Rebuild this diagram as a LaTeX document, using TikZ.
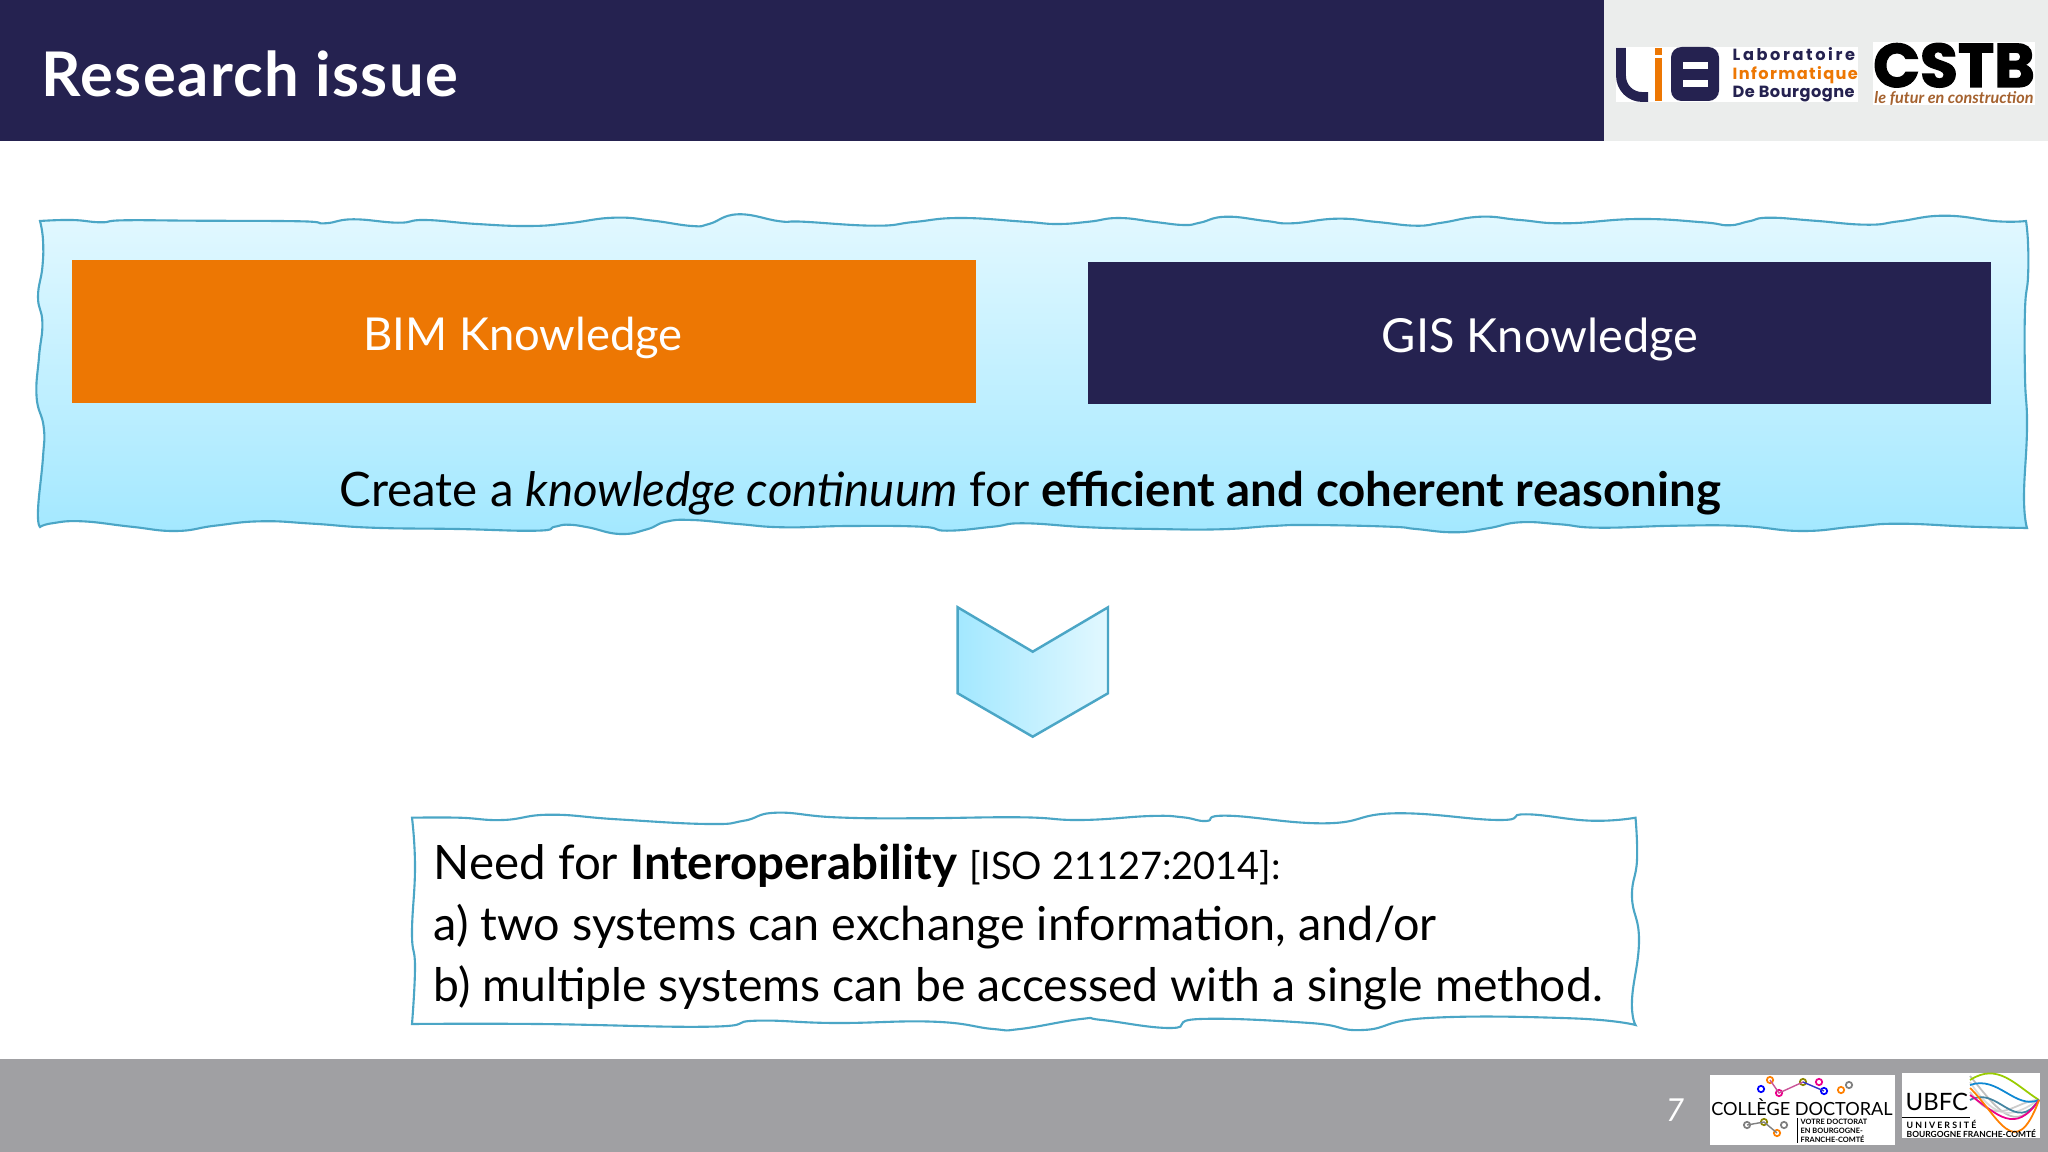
\documentclass[tikz,border=0pt]{standalone}
\usepackage{fontspec}
\setmainfont{Lato}
\newfontfamily\logofont{Poppins}
\usepackage{tikz}
\definecolor{navyband}{HTML}{252250}
\definecolor{orangebox}{HTML}{ED7703}
\definecolor{wavyline}{HTML}{4BA6C6}
\definecolor{palecyan}{HTML}{E2F8FF}
\definecolor{deepcyan}{HTML}{A3E8FF}
\definecolor{footgrey}{HTML}{A0A0A3}
\definecolor{logogrey}{HTML}{EBEDEC}
\definecolor{futurbrown}{HTML}{A5622F}
\tikzset{
  boxtext/.style={inner sep=0pt},
  linetext/.style={boxtext,anchor=base west},
  lablogo/.style={font=\logofont\bfseries\fontsize{4.6}{5}\selectfont,anchor=base west,inner sep=0pt},
  dot/.style={circle,draw,line width=0.5pt,inner sep=0pt,minimum size=1.8pt},
}
\begin{document}
\begin{tikzpicture}[x=0.01cm,y=-0.01cm]
\useasboundingbox (0,0) rectangle (2048,1152);
\fill[white] (0,0) rectangle (2048,1152);
\fill[navyband] (0,0) rectangle (1604,141);
\fill[logogrey] (1604,0) rectangle (2048,141);
\fill[footgrey] (0,1059) rectangle (2048,1152);
\node[anchor=base west,inner sep=0pt,text=white,font=\bfseries\fontsize{17.5}{20}\selectfont] (title) at (41,97) {\addfontfeatures{LetterSpace=2.2}Research issue};
%
\path[draw=wavyline,line width=0.6pt,top color=palecyan,bottom color=deepcyan]
  plot[smooth,tension=0.8] coordinates {(40,221) (72,220) (101,222.3) (124,220.3) (196,220.7) (300,221.3) (325,223.3) (353,219.3) (398,222.7) (425,220) (477,224) (529,226) (568,223.3) (614,217.7) (653,220.7) (692,226) (709,224) (738,214.3) (780,221.3) (803,221.7) (875,225.7) (914,222) (960,218) (1024,221.7) (1057,224) (1089,221.7) (1119,218) (1155,222) (1184,225) (1200,222.7) (1226,216.7) (1266,221) (1292,223.3) (1337,218.7) (1377,222) (1416,225.7) (1442,222.7) (1481,216.7) (1520,220) (1566,223.3) (1638,219) (1703,222.3) (1729,225.3) (1749,221.3) (1769,217.7) (1814,220.7) (1867,224.7) (1899,221.3) (1945,215.7) (1997,221.3) (2026,221)}
  -- plot[smooth,tension=0.8] coordinates {(2026,221) (2028,243) (2028,277) (2025,310) (2025,377) (2027,427) (2024,497) (2027,528)}
  -- plot[smooth,tension=0.8] coordinates {(2027,528) (1971,526.7) (1899,523.7) (1854,526.7) (1801,531) (1742,526) (1677,525.7) (1599,527.7) (1560,524.3) (1520,522.3) (1488,528.3) (1455,532.3) (1416,529) (1390,526.7) (1311,525) (1272,526) (1220,529.3) (1155,529) (1089,527.3) (1024,523.3) (993,526.7) (947,530.7) (921,526.7) (849,526) (784,527.3) (738,524) (692,520) (666,521.7) (647,529.3) (620,534) (588,527.3) (568,524.7) (555,526.7) (536,530.7) (457,529) (372,527.7) (313,523.7) (261,521.3) (215,525.7) (176,531) (131,526.7) (82,521.3) (52,523.3) (40,527)}
  -- plot[smooth,tension=0.8] coordinates {(40,527) (38,510) (43,457) (43.7,427) (36.6,397) (39,357) (42.4,323) (38,297) (42.4,267) (43,240) (40,221)} -- cycle;
%
\fill[orangebox] (72,260.3) rectangle (975.6,402.7);
\fill[navyband] (1088,262) rectangle (1991,404.3);
\node[boxtext,text=white,font=\fontsize{12.9}{16}\selectfont] (bim) at (523,338) {BIM Knowledge};
\node[boxtext,text=white,font=\fontsize{13.35}{16}\selectfont] (gis) at (1540,339) {GIS Knowledge};
\node[linetext,font=\fontsize{13.5}{16}\selectfont] (continuum) at (339,507) {Create a \textit{knowledge continuum} for \textbf{efficient and coherent reasoning}};
%
\path[draw=wavyline,line width=0.7pt,left color=deepcyan,right color=palecyan] (957.7,607.3) -- (1032.7,651.7) -- (1108,607.3) -- (1108,693.3) -- (1032.7,736.7) -- (957.7,693.3) -- cycle;
%
\path[draw=wavyline,line width=0.6pt,fill=white]
  plot[smooth,tension=0.8] coordinates {(412,817.7) (459,817.7) (503,820) (550,814.7) (617,819.3) (708,824) (744,820.7) (776,812.7) (835,817.3) (914,818.3) (1020,817.3) (1081,820) (1151,816) (1183,817.3) (1206,821) (1228,815.7) (1326,823.3) (1395,813.3) (1498,820) (1526,814.3) (1591,820.7) (1635.5,817.7)}
  -- plot[smooth,tension=0.8] coordinates {(1635.5,817.7) (1637,860) (1632,897) (1639,940) (1632,1000) (1635.5,1025)}
  -- plot[smooth,tension=0.8] coordinates {(1635.5,1025) (1571,1018.3) (1428,1018) (1363,1030) (1310,1023) (1200,1019) (1171,1028) (1102,1020) (1081,1019) (1020,1029) (993,1029) (934,1021.7) (835,1023) (756,1020.7) (708,1026.7) (538,1024) (412,1024)}
  -- plot[smooth,tension=0.8] coordinates {(412,1024) (415,967) (412,933) (415,867) (412,817.7)} -- cycle;
\node[linetext,font=\fontsize{13.5}{16}\selectfont] (needline) at (433,879) {Need for \textbf{Interoperability} {\fontsize{10.8}{14}\selectfont [ISO 21127:2014]:}};
\node[linetext,font=\fontsize{13.3}{16}\selectfont] (aline) at (433,940) {a) two systems can exchange information, and/or};
\node[linetext,font=\fontsize{13.15}{16}\selectfont] (bline) at (433,1001) {b) multiple systems can be accessed with a single method.};
%
\node[text=white,font=\fontsize{9}{10}\itshape\selectfont,inner sep=0pt] (pagenum) at (1675,1110) {7};
%
% lib logo
\fill[white] (1616,47) rectangle (1858,102);
\draw[navyband,line width=2.8pt,rounded corners=6pt] (1621,48) -- (1621,97) -- (1648,97);
\fill[orangebox] (1655,58) rectangle (1662,101);
\fill[orangebox] (1655,48) rectangle (1662,55);
\fill[navyband,rounded corners=3pt] (1671,47) rectangle (1719,101);
\fill[white] (1683,62) rectangle (1708,69);
\fill[white] (1683,80) rectangle (1708,87);
\node[lablogo,text=navyband] (laboratoire) at (1732,61) {\addfontfeatures{LetterSpace=16}Laboratoire};
\node[lablogo,text=orangebox] (informatique) at (1732,80) {\addfontfeatures{LetterSpace=8.5}Informatique};
\node[lablogo,text=navyband] (bourgogne) at (1732,98) {\addfontfeatures{LetterSpace=3}De Bourgogne};
%
% cstb logo
\fill[white] (1873,42) rectangle (2035,105);
\node[font=\logofont\bfseries\fontsize{17.5}{18}\selectfont,inner sep=0pt,text depth=0pt,anchor=base] (cstb) at (1954,87) {\addfontfeatures{FakeBold=2}CSTB};
\node[font=\itshape\bfseries\fontsize{4.6}{5}\selectfont,text=futurbrown,inner sep=0pt] (futur) at (1954,98) {le futur en construction};
%
% college logo
\fill[white] (1710,1075) rectangle (1895,1145);
\foreach \px/\py/\dotcol in {1770/1080/orange,1779/1093/magenta,1761/1089/blue,1803/1082/olive,1819/1082/magenta,1824/1091/blue,1841/1090/orange,1849/1085/gray,1764/1122/olive,1777/1133/orange,1784/1125/gray,1747/1125/gray}
  \node[dot,draw=\dotcol] at (\px,\py) {};
\draw[magenta!60!gray,line width=0.4pt] (1770,1080) -- (1779,1093) -- (1803,1082);
\draw[blue!60!gray,line width=0.4pt] (1803,1082) -- (1824,1091);
\draw[gray,line width=0.4pt] (1747,1125) -- (1764,1122) -- (1777,1133);
\node[font=\fontsize{5.15}{7}\selectfont,inner sep=0pt] (college) at (1802,1107) {COLLÈGE DOCTORAL};
\draw[black,line width=0.2pt] (1797,1118) -- (1797,1143);
\node[font=\bfseries\fontsize{2.1}{2.6}\selectfont,anchor=west,inner sep=0pt,align=left] (votre) at (1800,1131) {VOTRE DOCTORAT\\EN BOURGOGNE-\\FRANCHE-COMTÉ};
%
% ubfc logo
\fill[white] (1902,1073) rectangle (2040,1138);
\foreach \ya/\yb/\yc/\curvecol in {1076/1110/1135/gray!50,1082/1125/1115/gray!30,1092/1130/1100/gray!40,1080/1062/1085/lime!80!black,1085/1075/1110/cyan!70!blue,1100/1085/1135/cyan!60!black,1095/1115/1135/magenta,1088/1115/1165/orange}
  \draw[\curvecol,line width=0.5pt] (1970,\ya) .. controls (1998,\yb) and (2015,\yc) .. (2039,1100);
\node[font=\fontsize{6.8}{9}\selectfont,anchor=base west,inner sep=0pt] (ubfc) at (1905,1110) {UBFC};
\draw[black,line width=0.2pt] (1902,1117) -- (1970,1117);
\node[font=\bfseries\fontsize{2.5}{3}\selectfont,anchor=base west,inner sep=0pt] (universite) at (1906,1128) {U N I V E R S I T É};
\node[font=\bfseries\fontsize{2.4}{3}\selectfont,anchor=base west,inner sep=0pt] (franche) at (1906,1137) {BOURGOGNE FRANCHE-COMTÉ};
\end{tikzpicture}
\end{document}
